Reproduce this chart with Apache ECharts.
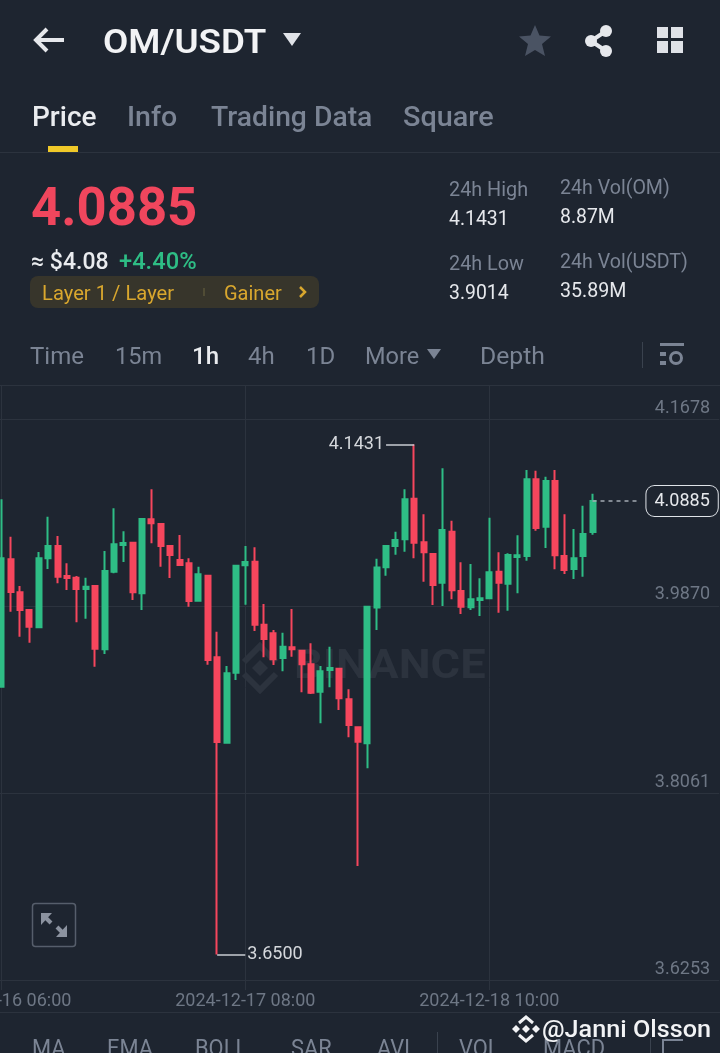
<!DOCTYPE html>
<html>
<head>
<meta charset="utf-8">
<title>OM/USDT</title>
<script src="https://cdn.jsdelivr.net/npm/echarts@6/dist/echarts.min.js"></script>
<style>
html, body { margin: 0; padding: 0; background: #1e2530; }
#main { width: 720px; height: 1053px; }
</style>
</head>
<body>
<div id="main"></div>
<script>
var categories = [
  '2024-12-16 06:00','2024-12-16 07:00','2024-12-16 08:00','2024-12-16 09:00','2024-12-16 10:00','2024-12-16 11:00',
  '2024-12-16 12:00','2024-12-16 13:00','2024-12-16 14:00','2024-12-16 15:00','2024-12-16 16:00','2024-12-16 17:00',
  '2024-12-16 18:00','2024-12-16 19:00','2024-12-16 20:00','2024-12-16 21:00','2024-12-16 22:00','2024-12-16 23:00',
  '2024-12-17 00:00','2024-12-17 01:00','2024-12-17 02:00','2024-12-17 03:00','2024-12-17 04:00','2024-12-17 05:00',
  '2024-12-17 06:00','2024-12-17 07:00','2024-12-17 08:00','2024-12-17 09:00','2024-12-17 10:00','2024-12-17 11:00',
  '2024-12-17 12:00','2024-12-17 13:00','2024-12-17 14:00','2024-12-17 15:00','2024-12-17 16:00','2024-12-17 17:00',
  '2024-12-17 18:00','2024-12-17 19:00','2024-12-17 20:00','2024-12-17 21:00','2024-12-17 22:00','2024-12-17 23:00',
  '2024-12-18 00:00','2024-12-18 01:00','2024-12-18 02:00','2024-12-18 03:00','2024-12-18 04:00','2024-12-18 05:00',
  '2024-12-18 06:00','2024-12-18 07:00','2024-12-18 08:00','2024-12-18 09:00','2024-12-18 10:00','2024-12-18 11:00',
  '2024-12-18 12:00','2024-12-18 13:00','2024-12-18 14:00','2024-12-18 15:00','2024-12-18 16:00','2024-12-18 17:00',
  '2024-12-18 18:00','2024-12-18 19:00','2024-12-18 20:00','2024-12-18 21:00','2024-12-18 22:00','2024-12-18 23:00',
  '2024-12-19 00:00','2024-12-19 01:00','2024-12-19 02:00','2024-12-19 03:00','2024-12-19 04:00','2024-12-19 05:00',
  '2024-12-19 06:00','2024-12-19 07:00','2024-12-19 08:00','2024-12-19 09:00','2024-12-19 10:00'
];

// open, close, low, high
var candles = [
  [3.9089,4.0331,3.9081,4.0901],[4.0321,4.0005,3.9815,4.0540],[4.0002,3.9831,3.9573,4.0063],[3.9831,3.9670,3.9515,3.9831],
  [3.9664,4.0331,3.9657,4.0392],[4.0331,4.0450,4.0227,4.0733],[4.0450,4.0153,4.0089,4.0547],[4.0160,4.0140,4.0024,4.0283],
  [4.0143,4.0034,3.9712,4.0160],[4.0034,4.0056,3.9747,4.0143],[4.0063,3.9457,3.9283,4.0063],[3.9451,4.0208,3.9406,4.0402],
  [4.0201,4.0466,4.0186,4.0814],[4.0460,4.0479,4.0295,4.0592],[4.0482,4.0002,3.9928,4.0491],[3.9993,4.0711,3.9831,4.0718],
  [4.0708,4.0669,4.0476,4.0998],[4.0663,4.0450,4.0250,4.0669],[4.0450,4.0363,4.0140,4.0450],[4.0315,4.0266,4.0266,4.0556],
  [4.0283,3.9918,3.9863,4.0331],[3.9921,4.0176,3.9921,4.0250],[4.0163,3.9348,3.9302,4.0163],[3.9374,3.8555,3.6500,3.9621],
  [3.8548,3.9219,3.8545,3.9290],[3.9225,4.0259,3.9154,4.0259],[4.0263,4.0295,3.9882,4.0450],[4.0298,3.9689,3.9628,4.0437],
  [3.9689,3.9551,3.9374,3.9889],[3.9606,3.9354,3.9299,3.9638],[3.9367,3.9476,3.9238,3.9612],[3.9470,3.9451,3.9379,3.9841],
  [3.9437,3.9306,3.9035,3.9437],[3.9306,3.9031,3.9019,3.9509],[3.9041,3.9238,3.8735,3.9290],[3.9251,3.9270,3.9084,3.9476],
  [3.9263,3.8977,3.8864,3.9263],[3.8967,3.8719,3.8600,3.9064],[3.8697,3.8557,3.7356,3.8697],[3.8542,3.9863,3.8300,3.9863],
  [3.9855,4.0242,3.9638,4.0327],[4.0244,4.0450,4.0163,4.0450],[4.0450,4.0508,4.0366,4.0588],[4.0515,4.0901,4.0395,4.0998],
  [4.0907,4.0482,4.0331,4.1431],[4.0486,4.0389,4.0105,4.0756],[4.0373,4.0073,3.9879,4.0373],[4.0095,4.0605,3.9870,4.1201],
  [4.0588,4.0022,3.9934,4.0695],[4.0015,3.9863,3.9792,4.0292],[3.9857,3.9934,3.9831,4.0276],[3.9928,3.9944,3.9773,4.0138],
  [3.9944,4.0196,3.9944,4.0724],[4.0201,4.0095,3.9805,4.0389],[4.0085,4.0363,3.9824,4.0379],[4.0344,4.0360,3.9993,4.0553],
  [4.0353,4.1095,4.0308,4.1185],[4.1095,4.0624,4.0598,4.1178],[4.0637,4.1078,4.0431,4.1120],[4.1078,4.0360,4.0225,4.1185],
  [4.0353,4.0218,4.0179,4.0756],[4.0227,4.0331,4.0131,4.0614],[4.0353,4.0566,4.0153,4.0840],[4.0585,4.0885,4.0559,4.0956]
];

var priceTicks = [3.6253, 3.8061, 3.9870, 4.1678];
var highPrice = 4.1431;
var lowPrice = 3.6500;
var lastPrice = 4.0885;

var BG = '#1e2530';
var GREEN = '#2ebd85';
var RED = '#f6465d';
var GRAY = '#7b8494';
var LIGHT = '#e6e8ec';
var LINE = '#2c333e';

function txt(text, x, y, size, color, weight, scaleX) {
  return {
    type: 'text', x: x, y: y, scaleX: scaleX || 1, silent: true,
    style: { text: text, fill: color, font: (weight || 400) + ' ' + size + 'px Roboto', textVerticalAlign: 'middle' }
  };
}
function hline(x1, x2, y, color) {
  return { type: 'line', silent: true, shape: { x1: x1, y1: y, x2: x2, y2: y }, style: { stroke: color, lineWidth: 1 } };
}
function vline(x, y1, y2, color) {
  return { type: 'line', silent: true, shape: { x1: x, y1: y1, x2: x, y2: y2 }, style: { stroke: color, lineWidth: 1 } };
}
function poly(points, color) {
  return { type: 'polygon', silent: true, shape: { points: points }, style: { fill: color } };
}
function stroke(points, color, w) {
  return { type: 'polyline', silent: true, shape: { points: points }, style: { stroke: color, lineWidth: w, fill: 'none' } };
}
function box(x, y, w, h, color, r) {
  return { type: 'rect', silent: true, shape: { x: x, y: y, width: w, height: h, r: r || 0 }, style: { fill: color } };
}
function dot(x, y, r, color) {
  return { type: 'circle', silent: true, shape: { cx: x, cy: y, r: r }, style: { fill: color } };
}

// everything around the chart: header, tabs, stats, toolbars
var page = [
  // top bar
  stroke([[37, 40], [64, 40]], LIGHT, 4),
  stroke([[47, 29], [36, 40], [47, 51]], LIGHT, 4),
  txt('OM/USDT', 103, 44, 34, '#f2f3f5', 600, 1.08),
  poly([[283, 33], [301, 33], [292, 46]], '#e0e3e8'),
  poly([[535, 25], [539.5, 35.5], [551, 36.5], [542, 44], [545, 56], [535, 50], [525, 56], [528, 44], [519, 36.5], [530.5, 35.5]], '#4a5363'),
  stroke([[606, 31], [591, 41], [606, 51]], LIGHT, 4),
  dot(606, 31, 6, LIGHT), dot(591, 41, 6, LIGHT), dot(606, 51, 6, LIGHT),
  box(657, 27, 11, 11, '#dfe2e7'), box(671, 27, 12, 11, '#dfe2e7'), box(657, 41, 11, 12, '#dfe2e7'), box(671, 41, 12, 12, '#dfe2e7'),

  // tabs
  txt('Price', 32, 119, 28, '#eaecef', 500, 1.0),
  txt('Info', 127, 119, 28, GRAY, 500, 1.02),
  txt('Trading Data', 211, 119, 28, GRAY, 500, 1.01),
  txt('Square', 403, 119, 28, GRAY, 500, 1.03),
  box(48, 146, 30, 6, '#f0c929'),
  hline(0, 720, 152.5, LINE),

  // price block
  txt('4.0885', 31, 211, 54, '#f0465d', 700, 0.975),
  txt('≈ $4.08', 31, 263, 23, '#eaecef', 500, 1.0),
  txt('+4.40%', 119, 263, 23, GREEN, 500, 1.03),
  box(30, 276, 289, 32, '#37352b', 8),
  txt('Layer 1 / Layer', 42, 295, 20, '#d9a72e', 400, 1.01),
  vline(204, 288, 296, '#6b6440'),
  txt('Gainer', 224, 295, 20, '#d9a72e', 400, 1.0),
  stroke([[300, 287], [305, 292], [300, 297]], '#d9a72e', 2.5),

  // 24h stats
  txt('24h High', 449, 191, 20, GRAY, 400, 0.99),
  txt('4.1431', 449, 220, 20, LIGHT, 400, 0.97),
  txt('24h Vol(OM)', 560, 189, 20, GRAY, 400, 0.98),
  txt('8.87M', 560, 218, 20, LIGHT, 400, 0.97),
  txt('24h Low', 449, 265, 20, GRAY, 400, 0.99),
  txt('3.9014', 449, 294, 20, LIGHT, 400, 0.97),
  txt('24h Vol(USDT)', 560, 263, 20, GRAY, 400, 0.98),
  txt('35.89M', 560, 292, 20, LIGHT, 400, 0.98),

  // interval bar
  txt('Time', 30, 358, 24, GRAY, 400, 1.0),
  txt('15m', 115, 358, 24, GRAY, 400, 0.98),
  txt('1h', 192, 358, 24, '#eaecef', 500, 1.0),
  txt('4h', 248, 358, 24, GRAY, 400, 1.0),
  txt('1D', 306, 358, 24, GRAY, 400, 1.0),
  txt('More', 365, 358, 24, GRAY, 400, 0.98),
  poly([[427, 349], [441, 349], [434, 359]], GRAY),
  txt('Depth', 480, 358, 24, GRAY, 400, 1.03),
  vline(642.5, 342, 368, '#3a424e'),
  box(660, 343, 24, 3, GRAY), box(660, 352, 6, 4, GRAY), box(660, 361, 6, 4, GRAY),
  { type: 'circle', silent: true, shape: { cx: 676, cy: 358, r: 5.5 }, style: { fill: 'none', stroke: GRAY, lineWidth: 3 } },
  hline(0, 720, 385.5, LINE),

  // chart watermark, sits under the candles
  stroke([[244, 662], [260, 646], [276, 662]], '#2c333e', 6),
  stroke([[244, 674], [260, 690], [276, 674]], '#2c333e', 6),
  poly([[260, 660], [268, 668], [260, 676], [252, 668]], '#2c333e'),
  txt('BINANCE', 294, 668, 40, '#2c333e', 700, 1.13),

  // expand button
  { type: 'rect', silent: true, shape: { x: 32.5, y: 903.5, width: 43, height: 43, r: 3 }, style: { fill: 'none', stroke: '#565e6b', lineWidth: 1.5 } },
  poly([[41, 913], [52, 913], [41, 925]], '#8c93a0'),
  poly([[67, 937], [56, 937], [67, 925]], '#8c93a0'),
  stroke([[46, 918], [51, 923]], '#8c93a0', 4),
  stroke([[57, 927], [62, 932]], '#8c93a0', 4),

  // indicator bar
  hline(0, 720, 1012.5, LINE),
  txt('MA', 32, 1050, 23, GRAY, 400, 0.95),
  txt('EMA', 107, 1050, 23, GRAY, 400, 0.95),
  txt('BOLL', 195, 1050, 23, GRAY, 400, 0.95),
  txt('SAR', 291, 1050, 23, GRAY, 400, 0.95),
  txt('AVL', 377, 1050, 23, GRAY, 400, 0.95),
  vline(437.5, 1032, 1053, '#3a424e'),
  txt('VOL', 459, 1050, 23, GRAY, 400, 0.95),
  txt('MACD', 543, 1050, 23, GRAY, 400, 0.95),
  vline(650.5, 1038, 1053, '#3a424e'),
  stroke([[663, 1053], [663, 1040], [683, 1040]], GRAY, 2),

  // repost credit
  stroke([[519, 1023], [526, 1017], [533, 1023]], '#f2f3f5', 3),
  stroke([[519, 1035], [526, 1041], [533, 1035]], '#f2f3f5', 3),
  poly([[516, 1025], [520, 1029], [516, 1033], [512, 1029]], '#f2f3f5'),
  poly([[536, 1025], [540, 1029], [536, 1033], [532, 1029]], '#f2f3f5'),
  poly([[526, 1025], [530, 1029], [526, 1033], [522, 1029]], '#f2f3f5'),
  txt('@Janni Olsson', 542, 1031, 24, '#f2f3f5', 500, 1.05)
];

var chart = echarts.init(document.getElementById('main'));

var option = {
  animation: false,
  backgroundColor: BG,
  textStyle: { fontFamily: 'Roboto' },
  graphic: { elements: page },
  grid: { left: -3.39, right: 0.8, top: 385, bottom: 63, outerBoundsMode: 'none', containLabel: false },
  xAxis: {
    type: 'category',
    data: categories,
    axisLine: { show: false },
    axisTick: { show: false, alignWithLabel: true },
    axisLabel: {
      show: true,
      color: '#6e7785',
      fontSize: 18,
      margin: 2,
      interval: function (i) { return i % 26 === 0; }
    },
    splitLine: {
      show: true,
      alignWithLabel: true,
      interval: function (i) { return i % 26 === 0; },
      lineStyle: { color: LINE, width: 1 }
    }
  },
  yAxis: {
    type: 'value',
    position: 'right',
    scale: true,
    min: 3.61563,
    max: 4.20068,
    axisLine: { show: false },
    axisTick: { show: false, customValues: priceTicks },
    axisLabel: {
      inside: true,
      customValues: priceTicks,
      color: '#6e7785',
      fontSize: 18,
      margin: 9,
      verticalAlign: 'bottom',
      padding: [0, 0, 2, 0],
      formatter: function (v) { return v.toFixed(4); }
    },
    splitLine: { show: true, lineStyle: { color: LINE, width: 1 } }
  },
  series: [{
    type: 'candlestick',
    data: candles,
    barWidth: 5.5,
    silent: true,
    itemStyle: {
      color: GREEN,
      color0: RED,
      borderColor: GREEN,
      borderColor0: RED,
      borderWidth: 2
    },
    markLine: {
      silent: true,
      symbol: 'none',
      animation: false,
      data: [
        [
          { coord: [44, highPrice], lineStyle: { color: '#c9ccd2', width: 1.5, type: 'solid' },
            label: { position: 'end', distance: 2, color: '#d5d8dc', fontSize: 18, formatter: highPrice.toFixed(4) } },
          { coord: [41, highPrice] }
        ],
        [
          { coord: [23, lowPrice], lineStyle: { color: '#c9ccd2', width: 1.5, type: 'solid' },
            label: { position: 'end', distance: 2, color: '#d5d8dc', fontSize: 18, formatter: lowPrice.toFixed(4) } },
          { coord: [26, lowPrice] }
        ],
        [
          { coord: [63, lastPrice], lineStyle: { color: '#a4aab3', width: 1.5, type: [4, 4] },
            label: { position: 'end', distance: 7, color: '#e6e8ec', fontSize: 18, formatter: lastPrice.toFixed(4),
              backgroundColor: BG, borderColor: '#dfe3e8', borderWidth: 1, borderRadius: 8, padding: [6, 8] } },
          { coord: [68, lastPrice] }
        ]
      ]
    }
  }]
};

chart.setOption(option);
</script>
</body>
</html>
